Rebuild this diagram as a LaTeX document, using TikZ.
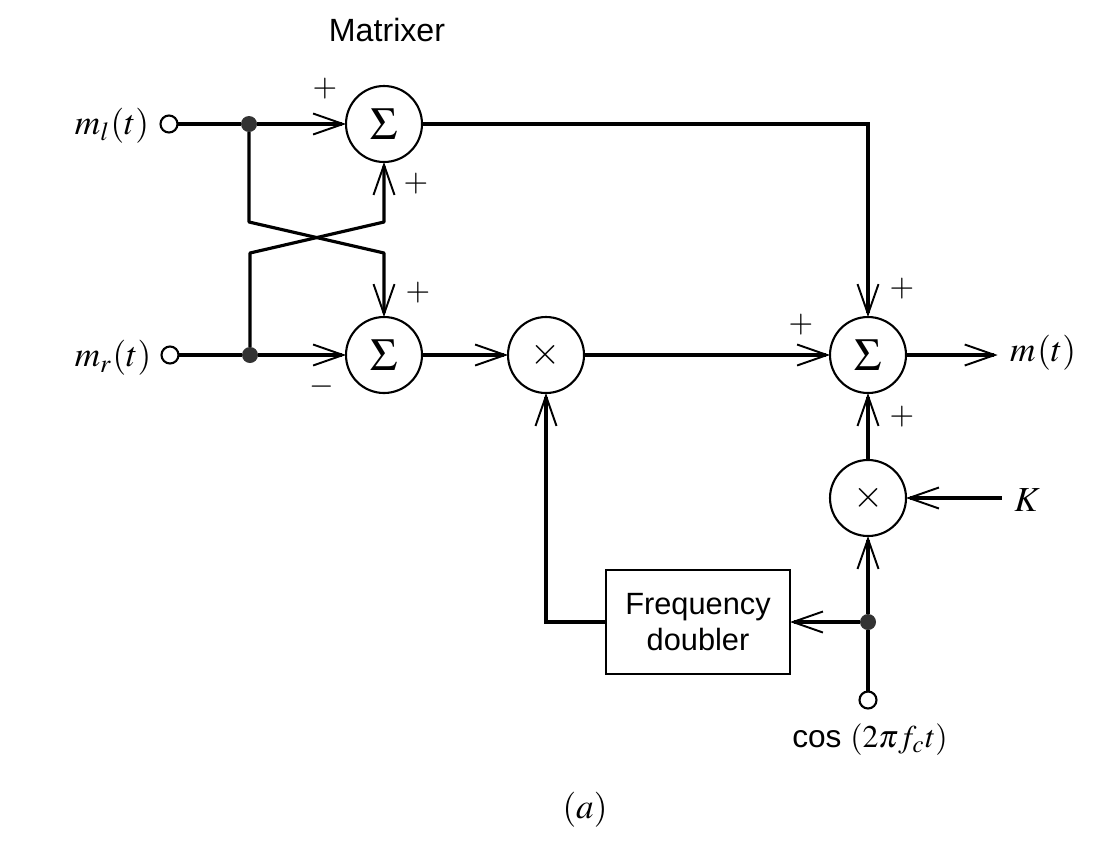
\documentclass[tikz,border=0pt]{standalone}
\usepackage{mathptmx}
\usepackage[no-math]{fontspec}
\setmainfont{Liberation Sans}
\usetikzlibrary{arrows.meta}

\tikzset{
  >={Straight Barb[length=.3cm,width=.21cm,line width=.55pt]},
  wire/.style={line width=.9pt},
  opnode/.style={draw, circle, line width=.6pt, minimum size=.76cm, inner sep=0pt, outer sep=0pt},
  portnode/.style={draw, circle, fill=white, line width=.6pt, minimum size=.17cm, inner sep=0pt, outer sep=0pt},
  dotnode/.style={circle, fill=black!80, minimum size=.16cm, inner sep=0pt, outer sep=0pt},
  signnode/.style={inner sep=0pt, font=\fontsize{9}{9}\selectfont},
  sumnode/.style={opnode, font=\fontsize{13}{13}\selectfont},
  mulnode/.style={opnode, font=\fontsize{11}{11}\selectfont},
  txtnode/.style={font=\fontsize{9.15}{10.4}\selectfont}
}

\begin{document}
\begin{tikzpicture}
\useasboundingbox (0,0) rectangle (11.18,8.56);

\node [txtnode] (matrixer) at (3.87, 8.26) {Matrixer};

\node (ml) at (1.12, 7.30) {$m_l(t)$};
\node (mr) at (1.13, 4.98) {$m_r(t)$};
\node (mt) at (10.43, 5.03) {$m\mkern1mu(t)$};
\node (K) at (10.27, 3.56) {$K$};
\node (cosin) at (8.70, 1.16) {\fontsize{9}{10}\selectfont cos $(2\pi f_c t)$};
\node (sub) at (5.85, .46) {$(a)$};

\node [portnode] (pl) at (1.69, 7.32) {};
\node [portnode] (pr) at (1.70, 5.01) {};
\node [portnode] (pc) at (8.68, 1.56) {};

\node [dotnode] (dl) at (2.49, 7.32) {};
\node [dotnode] (dr) at (2.50, 5.01) {};
\node [dotnode] (dc) at (8.68, 2.34) {};

\node [sumnode] (suma) at (3.84, 7.32) {$\Sigma$};
\node [sumnode] (sumb) at (3.84, 5.01) {$\Sigma$};
\node [sumnode] (sumc) at (8.68, 5.01) {$\Sigma$};
\node [mulnode] (mula) at (5.46, 5.01) {$\times$};
\node [mulnode] (mulb) at (8.68, 3.58) {$\times$};

\node [draw, line width=.6pt, font=\fontsize{8.75}{10.4}\selectfont, align=center, minimum width=1.84cm, minimum height=1.04cm, inner sep=0pt, outer sep=0pt] (fd) at (6.98, 2.34) {Frequency\\doubler};

\coordinate (xa) at (2.49, 6.34);
\coordinate (xb) at (3.84, 6.03);
\coordinate (xc) at (2.50, 6.03);
\coordinate (xd) at (3.84, 6.34);
\coordinate (mtin) at (mt.west |- sumc);
\coordinate (kin) at (K.west |- mulb);

\draw [wire] (pl) -- (dl);
\draw [wire] (pr) -- (dr);
\draw [wire, ->] (dl) -- (suma);
\draw [wire, ->] (dr) -- (sumb);

\draw [wire, ->, line join=round] (dl) -- (xa) -- (xb) -- (sumb);
\draw [wire, ->, line join=round] (dr) -- (xc) -- (xd) -- (suma);

\draw [wire, ->] (suma) -| (sumc);
\draw [wire, ->] (sumb) -- (mula);
\draw [wire, ->] (mula) -- (sumc);
\draw [wire, ->] (sumc) -- (mtin);
\draw [wire, ->] (mulb) -- (sumc);
\draw [wire, ->] (kin) -- (mulb);
\draw [wire, ->] (dc) -- (mulb);
\draw [wire] (pc) -- (dc);
\draw [wire, ->] (dc) -- (fd);
\draw [wire, ->] (fd) -| (mula);

\node [signnode] (pa) at (3.25, 7.67) {$+$};
\node [signnode] (pb) at (4.16, 6.72) {$+$};
\node [signnode] (pc2) at (4.18, 5.63) {$+$};
\node [signnode] (pd) at (3.22, 4.69) {$-$};
\node [signnode] (pe) at (8.01, 5.31) {$+$};
\node [signnode] (pf) at (9.02, 5.67) {$+$};
\node [signnode] (pg) at (9.02, 4.39) {$+$};
\end{tikzpicture}
\end{document}
